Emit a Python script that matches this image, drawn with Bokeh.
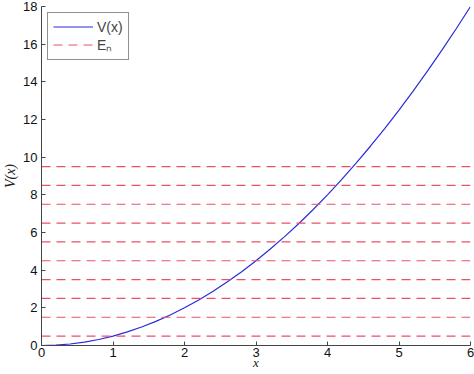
from bokeh.plotting import figure
from bokeh.models import Range1d, FixedTicker
from bokeh.embed import file_html
from bokeh.resources import INLINE

x_vals = [0.0, 0.2, 0.4, 0.6, 0.8, 1.0, 1.2, 1.4, 1.6, 1.8, 2.0, 2.2, 2.4, 2.6, 2.8, 3.0,
          3.2, 3.4, 3.6, 3.8, 4.0, 4.2, 4.4, 4.6, 4.8, 5.0, 5.2, 5.4, 5.6, 5.8, 6.0]
v_vals = [0.0, 0.02, 0.08, 0.18, 0.32, 0.5, 0.72, 0.98, 1.28, 1.62, 2.0, 2.42, 2.88, 3.38, 3.92, 4.5,
          5.12, 5.78, 6.48, 7.22, 8.0, 8.82, 9.68, 10.58, 11.52, 12.5, 13.52, 14.58, 15.68, 16.82, 18.0]
energies = [0.5, 1.5, 2.5, 3.5, 4.5, 5.5, 6.5, 7.5, 8.5, 9.5]
x_ticks = [0, 1, 2, 3, 4, 5, 6]
y_ticks = [0, 2, 4, 6, 8, 10, 12, 14, 16, 18]

BLUE = "#2b2bdd"
RED = "#ec5068"

p = figure(width=474, height=374, output_backend="svg", toolbar_location=None,
           x_range=Range1d(0, 6), y_range=Range1d(0, 18),
           min_border_left=40, min_border_right=4, min_border_top=6, min_border_bottom=29)
p.outline_line_color = None
p.xgrid.visible = False
p.ygrid.visible = False

p.line(x_vals, v_vals, line_color=BLUE, line_width=1.2, legend_label="V(x)")
for i, e in enumerate(energies):
    kw = {"legend_label": "Eₙ"} if i == 0 else {}
    p.line([x_ticks[0], x_ticks[-1]], [e, e], line_color=RED, line_width=1.2,
           line_dash="9 6", **kw)

for ax in (p.xaxis[0], p.yaxis[0]):
    ax.major_tick_in = 4
    ax.major_tick_out = 0
    ax.minor_tick_in = 0
    ax.minor_tick_out = 0
    ax.axis_line_color = "#444444"
    ax.major_tick_line_color = "#444444"
    ax.major_label_text_font = "Liberation Sans"
    ax.major_label_text_font_size = "13px"
    ax.major_label_text_color = "#111111"
    ax.axis_label_text_font = "Liberation Serif"
    ax.axis_label_text_font_style = "italic"
    ax.axis_label_text_color = "#222222"

p.xaxis.ticker = FixedTicker(ticks=x_ticks)
p.yaxis.ticker = FixedTicker(ticks=y_ticks)
p.xaxis.axis_label = "x"
p.xaxis.axis_label_text_font_size = "13px"
p.xaxis.major_label_standoff = 2
p.xaxis.axis_label_standoff = -5
p.yaxis.axis_label = "V(x)"
p.yaxis.axis_label_text_font_size = "14px"
p.yaxis.major_label_standoff = 4
p.yaxis.axis_label_standoff = 2

lg = p.legend[0]
lg.location = "top_left"
lg.border_line_color = "#222222"
lg.border_line_width = 1
lg.label_text_font = "Liberation Sans"
lg.label_text_font_size = "14px"
lg.glyph_width = 40
lg.glyph_height = 17
lg.label_height = 17
lg.spacing = 0
lg.padding = 5
lg.margin = 6
lg.label_standoff = 4

open("out.html", "w").write(file_html(p, INLINE))
